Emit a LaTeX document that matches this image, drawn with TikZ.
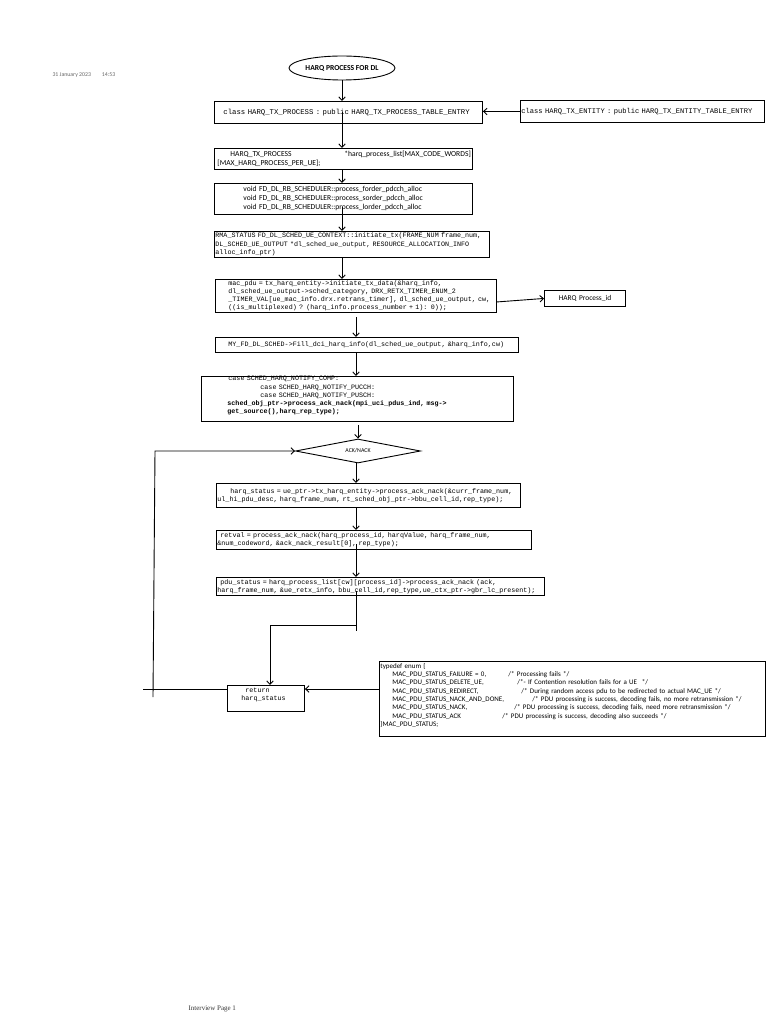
\documentclass[tikz,border=0pt]{standalone}
\usepackage{fontspec}
\setmainfont{Carlito}
\setmonofont{Liberation Mono}
\newfontfamily\pagefont{Liberation Serif}
\usetikzlibrary{shapes.geometric,arrows.meta}
\newcommand\pduline[3]{\hspace*{12pt}\makebox[#2][l]{#1}#3}

\begin{document}
\begin{tikzpicture}[x=1pt,y=-1pt,>={Straight Barb[length=3.5pt,width=6.5pt]},
    flow/.style={line width=0.9pt},
    box/.style={draw,line width=0.9pt,anchor=north west,inner xsep=1pt,inner ysep=0pt,align=left},
    code/.style={font=\fontsize{6.7}{8.2}\selectfont\ttfamily},
    prose/.style={font=\fontsize{7.6}{9}\selectfont}]
\useasboundingbox (0,0) rectangle (768,1024);
\node[anchor=west,text=black!60,font=\fontsize{5.8}{6}\selectfont] (stamp) at (49,75) {31 January 2023\hspace{11pt}14:53};
\node[ellipse,draw,line width=0.9pt,minimum width=106pt,minimum height=24pt,inner sep=0pt,font=\fontsize{7.6}{9}\selectfont\bfseries] (title) at (342,68) {HARQ PROCESS FOR DL};
\node[box,text width=266pt,minimum height=22pt,font=\fontsize{7.3}{9}\selectfont\ttfamily] (tx) at (214,101) {\hspace*{8pt}class HARQ\_TX\_PROCESS : public HARQ\_TX\_PROCESS\_TABLE\_ENTRY};
\node[box,text width=242pt,minimum height=22pt,font=\fontsize{7.1}{9}\selectfont\ttfamily] (entity) at (520,100) {class HARQ\_TX\_ENTITY : public HARQ\_TX\_ENTITY\_TABLE\_ENTRY};
\node[box,prose,text width=256pt,minimum height=21pt] (list) at (214,148) {\hspace*{15pt}\makebox[114pt][l]{HARQ\_TX\_PROCESS}*harq\_process\_list[MAX\_CODE\_WORDS]\\\hspace*{2pt}{[}MAX\_HARQ\_PROCESS\_PER\_UE];};
\node[box,prose,text width=256pt,minimum height=31pt] (sched) at (214,183) {\hspace*{28pt}void FD\_DL\_RB\_SCHEDULER::process\_forder\_pdcch\_alloc\\\hspace*{28pt}void FD\_DL\_RB\_SCHEDULER::process\_sorder\_pdcch\_alloc\\\hspace*{28pt}void FD\_DL\_RB\_SCHEDULER::process\_lorder\_pdcch\_alloc};
\node[box,code,text width=273pt,minimum height=26pt] (init) at (214,231) {RMA\_STATUS FD\_DL\_SCHED\_UE\_CONTEXT::initiate\_tx(FRAME\_NUM frame\_num,\\DL\_SCHED\_UE\_OUTPUT *dl\_sched\_ue\_output, RESOURCE\_ALLOCATION\_INFO\\*alloc\_info\_ptr)};
\node[box,code,text width=279pt,minimum height=33pt] (mac) at (215,279) {\hspace*{12pt}mac\_pdu = tx\_harq\_entity->initiate\_tx\_data(\&harq\_info,\\\hspace*{12pt}dl\_sched\_ue\_output->sched\_category, DRX\_RETX\_TIMER\_ENUM\_2\\\hspace*{12pt}\_TIMER\_VAL[ue\_mac\_info.drx.retrans\_timer], dl\_sched\_ue\_output, cw,\\\hspace*{12pt}((is\_multiplexed) ? (harq\_info.process\_number + 1): 0));};
\node[box,prose,align=center,text width=79pt,minimum height=16pt,font=\fontsize{7.4}{9}\selectfont] (pid) at (544,290) {HARQ Process\_id};
\node[box,code,text width=301pt,minimum height=15pt] (dci) at (215,337) {\hspace*{12pt}MY\_FD\_DL\_SCHED->Fill\_dci\_harq\_info(dl\_sched\_ue\_output, \&harq\_info,cw)};
\node[box,code,text width=310pt,minimum height=44pt] (notify) at (201,376) {\hspace*{26pt}case SCHED\_HARQ\_NOTIFY\_COMP:\\\hspace*{58pt}case SCHED\_HARQ\_NOTIFY\_PUCCH:\\\hspace*{58pt}case SCHED\_HARQ\_NOTIFY\_PUSCH:\\\hspace*{25pt}\textbf{sched\_obj\_ptr->process\_ack\_nack(mpi\_uci\_pdus\_ind, msg->}\\\hspace*{25pt}\textbf{get\_source(),harq\_rep\_type);}\\\mbox{}};
\node[diamond,draw,line width=0.9pt,aspect=5,minimum width=125pt,minimum height=24pt,inner sep=0pt,font=\fontsize{5.9}{6}\selectfont] (ack) at (358,451) {ACK/NACK};
\node[box,code,text width=302pt,minimum height=24pt] (status) at (216,483) {\hspace*{13pt}harq\_status = ue\_ptr->tx\_harq\_entity->process\_ack\_nack(\&curr\_frame\_num,\\ul\_hi\_pdu\_desc, harq\_frame\_num, rt\_sched\_obj\_ptr->bbu\_cell\_id,rep\_type);};
\node[box,code,text width=313pt,minimum height=19pt] (retval) at (216,530) {\hspace*{3pt}retval = process\_ack\_nack(harq\_process\_id, harqValue, harq\_frame\_num,\\\&num\_codeword, \&ack\_nack\_result[0], rep\_type);};
\node[box,code,text width=326pt,minimum height=18pt] (pdu) at (216,577) {\hspace*{3pt}pdu\_status = harq\_process\_list[cw][process\_id]->process\_ack\_nack (ack,\\harq\_frame\_num, \&ue\_retx\_info, bbu\_cell\_id,rep\_type,ue\_ctx\_ptr->gbr\_lc\_present);};
\node[box,code,text width=75pt,minimum height=26pt] (ret) at (227,685) {\hspace*{17pt}return\\\hspace*{13pt}harq\_status\\\mbox{}};
\node[box,text width=384pt,minimum height=75pt,font=\fontsize{7}{8.3}\selectfont] (enum) at (379,661) {typedef enum \{\\
\pduline{MAC\_PDU\_STATUS\_FAILURE = 0,}{116pt}{/* Processing fails */}\\
\pduline{MAC\_PDU\_STATUS\_DELETE\_UE,}{125pt}{/*- If Contention resolution fails for a UE\ \ */}\\
\pduline{MAC\_PDU\_STATUS\_REDIRECT,}{129pt}{/* During random access pdu to be redirected to actual MAC\_UE */}\\
\pduline{MAC\_PDU\_STATUS\_NACK\_AND\_DONE,}{140pt}{/* PDU processing is success, decoding fails, no more retransmission */}\\
\pduline{MAC\_PDU\_STATUS\_NACK,}{122pt}{/* PDU processing is success, decoding fails, need more retransmission */}\\
\pduline{MAC\_PDU\_STATUS\_ACK}{110pt}{/* PDU processing is success, decoding also succeeds */}\\
\}MAC\_PDU\_STATUS;\\\mbox{}};
\node[anchor=west,text=black!80,font=\pagefont\fontsize{7}{8}\selectfont] (pagefoot) at (185,1009) {Interview Page 1};
\coordinate (spine) at (356,0);
\coordinate (tail) at (356,631);
\coordinate (join) at (270,625);
\coordinate (loopTop) at (155,451);
\coordinate (loopEnd) at (153,697);
\coordinate (stub) at (143,689);
\draw[flow,->] (title) -- (title |- tx.north);
\draw[flow,->] (entity.west) -- (entity.west -| tx.east);
\draw[flow,->] (title |- tx) -- (title |- list.north);
\draw[flow,->] (title |- list.south) -- (title |- sched.north);
\draw[flow,->] ([yshift=8pt]title |- sched.south) -- (title |- init.north);
\draw[flow,->] (title |- init.south) -- (title |- mac.north);
\draw[flow,->] ([yshift=-6pt]mac.east) -- (pid.west);
\draw[flow,->] ([yshift=-4pt]spine |- mac.south) -- (spine |- dci.north);
\draw[flow,->] (spine |- dci.south) -- (spine |- notify.north);
\draw[flow,->] ([yshift=-3pt]ack |- notify.south) -- (ack.north);
\draw[flow,->] (ack.south -| spine) -- (spine |- status.north);
\draw[flow,->] (spine |- status.south) -- (spine |- retval.north);
\draw[flow,->] ([yshift=6pt]spine |- retval.south) -- (spine |- pdu.north);
\draw[flow] ([yshift=5pt]spine |- pdu.south) -- (tail);
\draw[flow,->] (spine |- join) -- (join) -- (join |- ret.north);
\draw[flow,->] (loopEnd) -- (loopTop) -- (ack.west);
\draw[flow] (stub) -- (stub -| ret.west);
\draw[flow,->] (enum.west |- stub) -- (stub -| ret.east);
\end{tikzpicture}
\end{document}
